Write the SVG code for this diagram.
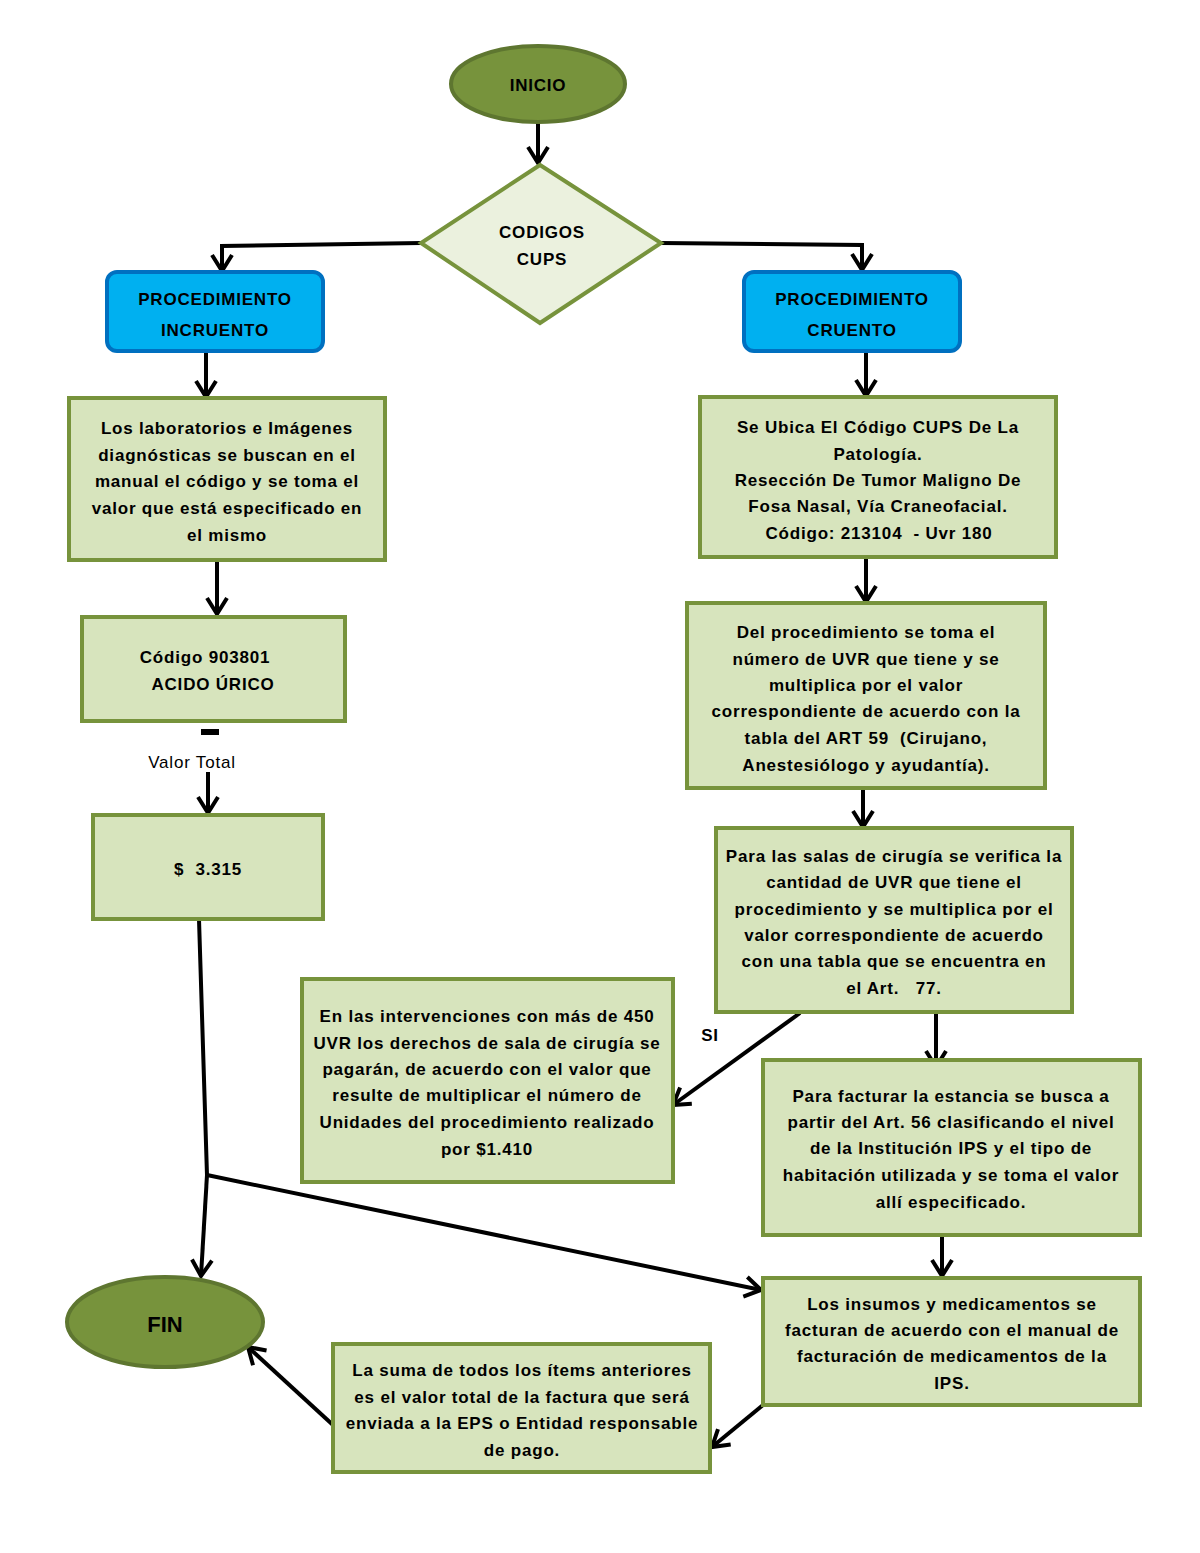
<svg xmlns="http://www.w3.org/2000/svg" width="1200" height="1553" viewBox="0 0 1200 1553">
<defs>
<style>
.box{fill:#D7E4BD;stroke:#77933C;stroke-width:4}
.term{fill:#77933C;stroke:#5E7630;stroke-width:4}
.blue{fill:#00B0F0;stroke:#0070C0;stroke-width:4}
.dia{fill:#EBF1DE;stroke:#77933C;stroke-width:4}
text{font-family:"Liberation Sans",Arial,sans-serif;font-weight:bold;font-size:17px;letter-spacing:0.8px;fill:#000;text-anchor:middle;white-space:pre}
.c{fill:none;stroke:#000;stroke-width:4;marker-end:url(#ah)}
.l{fill:none;stroke:#000;stroke-width:4}
</style>
<marker id="ah" viewBox="0 0 12 12" refX="10" refY="6" markerWidth="6" markerHeight="6" orient="auto" markerUnits="strokeWidth">
<polyline points="2,1 10,6 2,11" fill="none" stroke="#000" stroke-width="2"/>
</marker>
</defs>
<rect width="1200" height="1553" fill="#fff"/>

<g id="connectors">
<line class="c" x1="538" y1="122" x2="538" y2="163"/>
<polyline class="c" points="421,243 222,246 222,271"/>
<polyline class="c" points="661,243 862,245 862,270"/>
<line class="c" x1="206" y1="351" x2="206" y2="397"/>
<line class="c" x1="866" y1="351" x2="866" y2="396"/>
<line class="c" x1="217" y1="560" x2="217" y2="614"/>
<rect x="201" y="729" width="18" height="6" fill="#000"/>
<line class="c" x1="208" y1="772" x2="208" y2="813"/>
<line class="c" x1="866" y1="557" x2="866" y2="602"/>
<line class="c" x1="863" y1="788" x2="863" y2="827"/>
<line class="c" x1="800" y1="1013" x2="673" y2="1105"/>
<line class="c" x1="936" y1="1012" x2="936" y2="1067"/>
<line class="c" x1="942" y1="1235" x2="942" y2="1276"/>
<polyline class="l" points="199,919 207,1175"/>
<polyline class="c" points="207,1175 201,1276"/>
<line class="c" x1="207" y1="1175" x2="761" y2="1290"/>
<line class="c" x1="763" y1="1405" x2="712" y2="1447"/>
<line class="c" x1="333" y1="1425" x2="248" y2="1347"/>
</g>

<g id="inicio">
<ellipse class="term" cx="538" cy="84" rx="87" ry="38"/>
<text x="538" y="91">INICIO</text>
</g>

<g id="codigos">
<polygon class="dia" points="540,165 661,243 540,323 421,243"/>
<text x="542" y="238">CODIGOS</text>
<text x="542" y="265">CUPS</text>
</g>

<g id="incruento">
<rect class="blue" x="107" y="272" width="216" height="79" rx="10"/>
<text x="215" y="305">PROCEDIMIENTO</text>
<text x="215" y="336">INCRUENTO</text>
</g>

<g id="cruento">
<rect class="blue" x="744" y="272" width="216" height="79" rx="10"/>
<text x="852" y="305">PROCEDIMIENTO</text>
<text x="852" y="336">CRUENTO</text>
</g>

<g id="laboratorios">
<rect class="box" x="69" y="398" width="316" height="162"/>
<text x="227" y="434">Los laboratorios e Imágenes</text>
<text x="227" y="461">diagnósticas se buscan en el</text>
<text x="227" y="487">manual el código y se toma el</text>
<text x="227" y="514">valor que está especificado en</text>
<text x="227" y="541">el mismo</text>
</g>

<g id="codigo903801">
<rect class="box" x="82" y="617" width="263" height="104"/>
<text x="205" y="663">Código 903801</text>
<text x="213" y="690">ACIDO ÚRICO</text>
</g>

<g id="valortotal">
<text x="192" y="768" style="font-weight:normal">Valor Total</text>
</g>

<g id="valor">
<rect class="box" x="93" y="815" width="230" height="104"/>
<text x="208" y="875">$  3.315</text>
</g>

<g id="ubica">
<rect class="box" x="700" y="397" width="356" height="160"/>
<text x="878" y="433">Se Ubica El Código CUPS De La</text>
<text x="878" y="460">Patología.</text>
<text x="878" y="486">Resección De Tumor Maligno De</text>
<text x="878" y="512">Fosa Nasal, Vía Craneofacial.</text>
<text x="879" y="539">Código: 213104  - Uvr 180</text>
</g>

<g id="uvr">
<rect class="box" x="687" y="603" width="358" height="185"/>
<text x="866" y="638">Del procedimiento se toma el</text>
<text x="866" y="665">número de UVR que tiene y se</text>
<text x="866" y="691">multiplica por el valor</text>
<text x="866" y="717">correspondiente de acuerdo con la</text>
<text x="866" y="744">tabla del ART 59  (Cirujano,</text>
<text x="866" y="771">Anestesiólogo y ayudantía).</text>
</g>

<g id="salas">
<rect class="box" x="716" y="828" width="356" height="184"/>
<text x="894" y="862">Para las salas de cirugía se verifica la</text>
<text x="894" y="888">cantidad de UVR que tiene el</text>
<text x="894" y="915">procedimiento y se multiplica por el</text>
<text x="894" y="941">valor correspondiente de acuerdo</text>
<text x="894" y="967">con una tabla que se encuentra en</text>
<text x="894" y="994">el Art.   77.</text>
</g>

<g id="si">
<text x="710" y="1041">SI</text>
</g>

<g id="intervenciones">
<rect class="box" x="302" y="979" width="371" height="203"/>
<text x="487" y="1022">En las intervenciones con más de 450</text>
<text x="487" y="1049">UVR los derechos de sala de cirugía se</text>
<text x="487" y="1075">pagarán, de acuerdo con el valor que</text>
<text x="487" y="1101">resulte de multiplicar el número de</text>
<text x="487" y="1128">Unidades del procedimiento realizado</text>
<text x="487" y="1155">por $1.410</text>
</g>

<g id="estancia">
<rect class="box" x="763" y="1060" width="377" height="175"/>
<text x="951" y="1102">Para facturar la estancia se busca a</text>
<text x="951" y="1128">partir del Art. 56 clasificando el nivel</text>
<text x="951" y="1154">de la Institución IPS y el tipo de</text>
<text x="951" y="1181">habitación utilizada y se toma el valor</text>
<text x="951" y="1208">allí especificado.</text>
</g>

<g id="insumos">
<rect class="box" x="763" y="1278" width="377" height="127"/>
<text x="952" y="1310">Los insumos y medicamentos se</text>
<text x="952" y="1336">facturan de acuerdo con el manual de</text>
<text x="952" y="1362">facturación de medicamentos de la</text>
<text x="952" y="1389">IPS.</text>
</g>

<g id="suma">
<rect class="box" x="333" y="1344" width="377" height="128"/>
<text x="522" y="1376">La suma de todos los ítems anteriores</text>
<text x="522" y="1403">es el valor total de la factura que será</text>
<text x="522" y="1429">enviada a la EPS o Entidad responsable</text>
<text x="522" y="1456">de pago.</text>
</g>

<g id="fin">
<ellipse class="term" cx="165" cy="1322" rx="98" ry="45"/>
<text x="165" y="1332" style="font-size:22px;letter-spacing:0">FIN</text>
</g>
</svg>
